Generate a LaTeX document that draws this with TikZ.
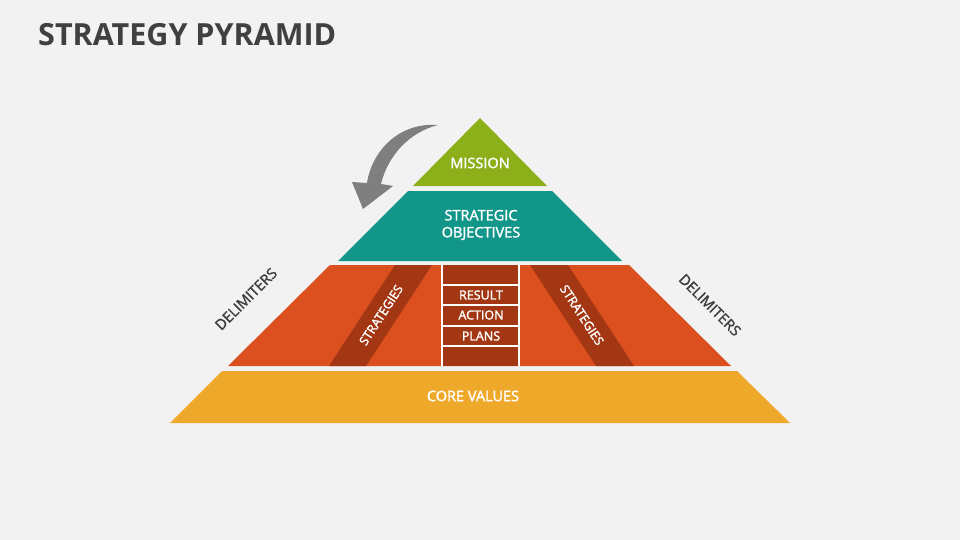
\documentclass[tikz,border=0pt]{standalone}
\usepackage{fontspec}
\setmainfont{Open Sans}[FakeBold=1.8]
\newfontfamily\titlefont{Open Sans}
\definecolor{bg}{HTML}{F2F2F2}
\definecolor{mis}{HTML}{8DB01A}
\definecolor{obj}{HTML}{13968A}
\definecolor{mid}{HTML}{DC4F1E}
\definecolor{dark}{HTML}{A33714}
\definecolor{core}{HTML}{EFA92A}
\definecolor{txt}{HTML}{404040}
\definecolor{arr}{HTML}{7F7F7F}
\begin{document}
\begin{tikzpicture}[x=1pt,y=-1pt,
  lab/.style={text=white,font=\fontsize{14.5}{16}\selectfont,align=center,inner sep=0pt},
  slab/.style={text=white,font=\fontsize{12.5}{14}\selectfont,inner sep=0pt},
  dlab/.style={text=txt,font=\fontsize{14.5}{16}\selectfont,inner sep=0pt}]
\fill[bg] (0,0) rectangle (960,540);
\useasboundingbox (0,0) rectangle (960,540);
\node[anchor=west,text=txt,font=\titlefont\bfseries\fontsize{30.5}{33}\selectfont,inner sep=0pt] (title) at (38,35) {STRATEGY PYRAMID};
% layers
\fill[mis] (480,118) -- (547,186) -- (413,186) -- cycle;
\fill[obj] (408,191) -- (552,191) -- (622,261) -- (338,261) -- cycle;
\fill[mid] (330,265) -- (629,265) -- (731,366) -- (228,366) -- cycle;
\fill[core] (222,371) -- (737,371) -- (790,423) -- (170,423) -- cycle;
% bands
\fill[dark] (395,265) -- (432,265) -- (366,366) -- (329,366) -- cycle;
\fill[dark] (530,265) -- (568,265) -- (634,366) -- (596,366) -- cycle;
\fill[dark] (442,265) rectangle (519,366);
\draw[white,line width=1.5pt] (442,265) -- (442,366) (519,265) -- (519,366);
\foreach \yy in {285,305,326,346} \draw[white,line width=1.5pt] (442,\yy) -- (519,\yy);
% texts
\node[lab] (mission) at (480,163) {MISSION};
\node[lab] (objectives) at (481,225) {STRATEGIC\\[1pt]OBJECTIVES};
\node[lab] (core) at (473,396) {CORE VALUES};
\node[slab] (result) at (481,295) {RESULT};
\node[slab] (action) at (481,315) {ACTION};
\node[slab] (plans) at (481,336) {PLANS};
\node[slab,rotate=57] (s1) at (381,315) {STRATEGIES};
\node[slab,rotate=-57] (s2) at (582,315) {STRATEGIES};
\node[dlab,rotate=45] (d1) at (246,299) {DELIMITERS};
\node[dlab,rotate=-45] (d2) at (710,305) {DELIMITERS};
% arrow
\fill[arr] (438,125) .. controls (400,122) and (372,150) .. (367,183)
  -- (352,182) -- (363,209) -- (393,186) -- (381,184)
  .. controls (388,155) and (410,132) .. (438,125) -- cycle;
\end{tikzpicture}
\end{document}
